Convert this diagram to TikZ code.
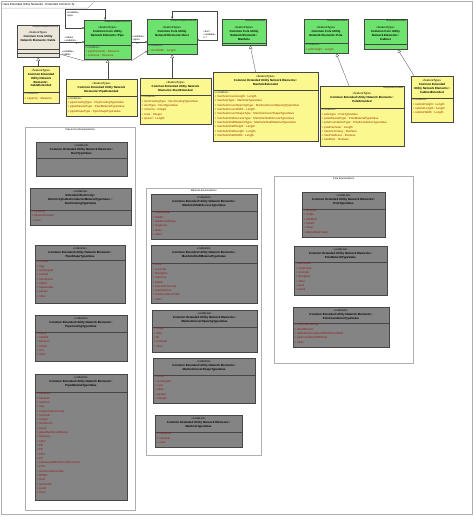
\documentclass[tikz,border=0pt]{standalone}
\usepackage{fontspec}
\setmainfont{Liberation Sans}
\usetikzlibrary{arrows.meta, positioning, shadows}

\definecolor{ccgreen}{RGB}{110,226,110}
\definecolor{ceyellow}{RGB}{250,248,142}
\definecolor{cablebeige}{RGB}{236,230,218}
\definecolor{enumgray}{RGB}{132,132,132}
\definecolor{litred}{RGB}{150,22,22}
\definecolor{attrred}{RGB}{150,45,10}
\definecolor{boxline}{RGB}{70,70,70}
\definecolor{frameline}{RGB}{175,175,175}

% box with header and one separator: name, style, x, y, w, h, separator y, header y, header
\newcommand{\classbox}[9]{%
  \node[#2, minimum width=#5, minimum height=#6, anchor=north west] (#1) at (#3,#4) {};
  \draw[boxline, line width=0.3pt] (#1.west |- 0,#7) -- (#1.east |- 0,#7);
  \node[hdr, anchor=north] (#1hdr) at ({#3+#5/2},#8) {#9};
}

\begin{document}
\begin{tikzpicture}[x=1pt, y=-1pt]

\tikzset{box/.style = {draw=boxline, line width=0.3pt, inner sep=0pt,
    drop shadow={shadow xshift=1.2pt, shadow yshift=-1.2pt, opacity=0.3}}}
\tikzset{core/.style = {box, fill=ccgreen}}
\tikzset{ext/.style = {box, fill=ceyellow}}
\tikzset{linkbox/.style = {box, fill=cablebeige}}
\tikzset{enum/.style = {box, fill=enumgray}}
\tikzset{pkg/.style = {draw=frameline, fill=white, line width=0.4pt, inner sep=0pt,
    drop shadow={shadow xshift=1pt, shadow yshift=-1pt, opacity=0.2}}}
\tikzset{hdr/.style = {font=\fontsize{2.9}{3.9}\selectfont, align=center, inner sep=0pt}}
\tikzset{tag/.style = {font=\fontsize{2.2}{2.6}\selectfont, inner sep=0.8pt, anchor=north east}}
\tikzset{attr/.style = {font=\fontsize{2.9}{4.3}\selectfont, align=left, inner sep=0pt,
    anchor=north west, xshift=1.5pt, text=attrred}}
\tikzset{lit/.style = {attr, text=litred}}
\tikzset{lbl/.style = {font=\fontsize{2.5}{3}\selectfont, inner sep=0.6pt, align=left}}
\tikzset{gen/.style = {draw=boxline, line width=0.3pt, -{Triangle[open, length=3.5pt, width=3.5pt]}}}
\tikzset{assoc/.style = {draw=boxline, line width=0.3pt}}
\tikzset{diagframe/.style = {draw=frameline, line width=0.8pt, inner sep=0pt}}

\useasboundingbox (0,0) rectangle (474,517);

% frame
\node[diagframe, minimum width=471, minimum height=513, anchor=north west] (diagram) at (0.5,0.5) {};
\draw[frameline, line width=0.5pt] (diagram.west |- 0,8) -- (88,8) -- (93,3) -- (93,0.5);
\node[font=\fontsize{2.9}{3.4}\selectfont, anchor=west, inner sep=0pt] (title) at (2.5,4.5)
  {class Extended Utility Networks - Extended Common Ty...};

% core classes
\classbox{cable}{linkbox}{17}{25}{42}{32}{49}{31}{«featureType»\\\textbf{Common Core Utility}\\\textbf{Network Elements::Cable}}
\draw[boxline, line width=0.3pt] (cable.west |- 0,53) -- (cable.east |- 0,53);
\node[tag] (cabletag) at (cable.north east) {UtilityLinkSequenceOfLink};

\classbox{pipe}{core}{84}{20}{47}{39}{45.5}{26}{«featureType»\\\textbf{Common Core Utility}\\\textbf{Network Elements::Pipe}}
\node[tag] (pipetag) at (pipe.north east) {UtilityLinkSequenceOfLink};
\node[attr] (pipeattr) at (pipe.west |- 0,46) {{\color{darkgray}«voidable»}\\+ pipeDiameter : Measure\\+ pressure : Measure};

\classbox{duct}{core}{147}{19}{50}{35}{44}{26.5}{«featureType»\\\textbf{Common Core Utility}\\\textbf{Network Elements::Duct}}
\node[tag] (ducttag) at (duct.north east) {UtilityLinkSequenceOfLink};
\node[attr] (ductattr) at (duct.west |- 0,44.5) {{\color{darkgray}«voidable»}\\+ ductWidth : Length};

\classbox{manhole}{core}{222}{19}{44}{26}{43}{26.5}{«featureType»\\\textbf{Common Core Utility}\\\textbf{Network Elements::}\\\textbf{Manhole}}
\node[tag] (manholetag) at (manhole.north east) {UtilityNodeContainer};

\classbox{pole}{core}{304}{19}{44}{34}{43}{26}{«featureType»\\\textbf{Common Core Utility}\\\textbf{Network Elements::Pole}}
\node[tag] (poletag) at (pole.north east) {UtilityNodeContainer};
\node[attr] (poleattr) at (pole.west |- 0,43.5) {{\color{darkgray}«voidable»}\\+ poleHeight : Length};

\classbox{cabinet}{core}{364}{19}{43}{30}{44.5}{26.5}{«featureType»\\\textbf{Common Core Utility}\\\textbf{Network Elements::}\\\textbf{Cabinet}}
\node[tag] (cabinettag) at (cabinet.north east) {UtilityNodeContainer};

% extended classes
\classbox{cableext}{ext}{23}{66}{36}{37}{92}{69}{«featureType»\\\textbf{Common Extended}\\\textbf{Utility Network}\\\textbf{Elements::}\\\textbf{CableExtended}}
\node[attr] (cableextattr) at (cableext.west |- 0,92.5) {{\color{darkgray}«voidable»}\\+ capacity : Measure};

\classbox{pipeext}{ext}{66}{79}{71}{37}{96.5}{82}{«featureType»\\\textbf{Common Extended Utility Network}\\\textbf{Elements::PipeExtended}}
\node[attr] (pipeextattr) at (pipeext.west |- 0,97) {{\color{darkgray}«voidable»}\\+ pipeCoatingType : PipeCoatingTypeValue\\+ pipeMaterialType : PipeMaterialTypeValue\\+ pipeShapeType : PipeShapeTypeValue};

\classbox{ductext}{ext}{140}{78}{71}{46}{95}{81}{«featureType»\\\textbf{Common Extended Utility Network}\\\textbf{Elements::DuctExtended}}
\node[attr] (ductextattr) at (ductext.west |- 0,95.5) {{\color{darkgray}«voidable»}\\+ ductCoatingType : DuctCoatingTypeValue\\+ ductType : DuctTypeValue\\+ columns : Integer\\+ rows : Integer\\+ spacer : Length};

\classbox{manholeext}{ext}{213}{72}{105}{69}{90.5}{75}{«featureType»\\\textbf{Common Extended Utility Network Elements::}\\\textbf{ManholeExtended}}
\node[attr] (manholeextattr) at (manholeext.west |- 0,91) {{\color{darkgray}«voidable»}\\+ manholeCoverLength : Length\\+ manholeType : ManholeTypeValue\\+ manholeCoverOpeningType : ManholeCoverOpeningTypeValue\\+ manholeCoverWidth : Length\\+ manholeCoverShapeType : ManholeCoverShapeTypeValue\\+ manholeShaftAccessType : ManholeShaftAccessTypeValue\\+ manholeShaftMaterialType : ManholeShaftMaterialTypeValue\\+ manholeShaftHeight : Length\\+ manholeShaftLength : Length\\+ manholeShaftWidth : Length};

\classbox{poleext}{ext}{320}{86}{84}{60}{108}{92}{«featureType»\\\textbf{Common Extended Utility Network Elements::}\\\textbf{PoleExtended}}
\node[tag] (poleexttag) at (poleext.north east) {UtilityNodeContainer};
\node[attr] (poleextattr) at (poleext.west |- 0,108.5) {{\color{darkgray}«voidable»}\\+ poleType : PoleTypeValue\\+ poleMaterialType : PoleMaterialTypeValue\\+ poleFoundationType : PoleFoundationTypeValue\\+ poleDiameter : Length\\+ hasAnchorGuy : Boolean\\+ hasPoleBrace : Boolean\\+ hasRiser : Boolean};

\classbox{cabinetext}{ext}{411}{76}{42}{46}{98}{79}{«featureType»\\\textbf{Common Extended}\\\textbf{Utility Network Elements::}\\\textbf{CabinetExtended}}
\node[attr] (cabinetextattr) at (cabinetext.west |- 0,98.5) {{\color{darkgray}«voidable»}\\+ cabinetHeight : Length\\+ cabinetLength : Length\\+ cabinetWidth : Length};

% generalizations
\draw[gen] (cableext.north -| cable.south) -- (cable.south);
\draw[gen] (pipeext.north -| pipe.south) -- (pipe.south);
\draw[gen] (ductext.north -| duct.south) -- (duct.south);
\draw[gen] ([xshift=-10pt]manholeext.north) -- ([xshift=6pt]manhole.south);
\draw[gen] ([xshift=-13pt]poleext.north) -- ([xshift=10pt]pole.south);
\draw[gen] ([xshift=-18pt]cabinetext.north) -- ([xshift=12pt]cabinet.south);

% associations
\draw[assoc, {Circle[open, length=2pt]}-{Stealth[length=2.5pt, width=2pt]}] (pipe.west |- 0,28) -- ++(-19,0) -- ++(0,-19)
  node[lbl, anchor=north west, xshift=1pt, yshift=-1.5pt] {«voidable»\\+pipe} -| ([xshift=-2.5pt]pipe.north);
\draw[assoc, {Circle[open, length=2pt]}-{Stealth[length=2.5pt, width=2pt]}] (duct.east |- 0,40) -- ++(20,0)
  node[lbl, anchor=south east, xshift=-1pt, yshift=1pt] {+duct\\«voidable»\\0..*} -- ++(0,-29) -| (duct.north);
\draw[assoc, -{Circle[open, length=2pt]}] (cable.east |- 0,42) -- (pipe.west |- 0,42)
  node[lbl, pos=0.45, above] {+cables\\«voidable»} node[lbl, pos=0.75, below] {0..*};
\draw[assoc, -{Circle[open, length=2pt]}] (pipe.east |- 0,42) -- (duct.west |- 0,42)
  node[lbl, pos=0.45, above] {«voidable»\\+pipes} node[lbl, pos=0.45, below] {0..*};
\draw[assoc, -{Circle[open, length=2pt]}] (cable.east |- 0,54) -- ([yshift=-1.5pt]pipe.south west)
  node[lbl, pos=0.35, above] {«voidable»\\+cables} -- ([yshift=-1.5pt]pipe.south east) -- (duct.west |- 0,51);

% pipe and duct enumerations
\node[pkg, minimum width=110, minimum height=383, anchor=north west] (pkgpipe) at (25,127) {};
\node[lbl, below=1pt of pkgpipe.north] (pkgpipetitle) {Pipe \& Duct Enumerations};

\classbox{ducttype}{enum}{36}{142}{91}{34}{158}{144.5}{«codeList»\\\textbf{Common Extended Utility Network Elements::}\\\textbf{DuctTypeValue}}

\classbox{ductcoating}{enum}{30}{188}{101}{37}{210}{190}{«codeList»\\\textbf{Extended Electricity::}\\\textbf{ElectricityCableConductorMaterialTypeValue ::}\\\textbf{DuctCoatingTypeValue}}
\node[lit] (ductcoatinglit) at (ductcoating.west |- 0,210.5) {+ concrete\\+ bitumenCoated\\+ none};

\classbox{pipeshape}{enum}{35}{245}{90}{58}{260}{247}{«codeList»\\\textbf{Common Extended Utility Network Elements::}\\\textbf{PipeShapeTypeValue}}
\node[lit] (pipeshapelit) at (pipeshape.west |- 0,260.5) {+ circular\\+ egg\\+ rectangular\\+ arched\\+ horseshoe\\+ elliptic\\+ trapezoidal\\+ square\\+ other};

\classbox{pipecoating}{enum}{35}{315}{92}{46}{332}{317.5}{«codeList»\\\textbf{Common Extended Utility Network Elements::}\\\textbf{PipeCoatingTypeValue}}
\node[lit] (pipecoatinglit) at (pipecoating.west |- 0,332.5) {+ epoxy\\+ asphalt\\+ bitumen\\+ mortar\\+ zinc\\+ other};

\classbox{pipematerial}{enum}{35}{374}{92}{126}{392}{376.5}{«codeList»\\\textbf{Common Extended Utility Network Elements::}\\\textbf{PipeMaterialTypeValue}}
\node[lit] (pipemateriallit) at (pipematerial.west |- 0,392.5) {+ asbestos\\+ bitumen\\+ castIron\\+ clay\\+ compositeConcrete\\+ concrete\\+ copper\\+ ductileIron\\+ epoxy\\+ glassReinforcedEpoxy\\+ masonry\\+ other\\+ PB\\+ PE\\+ PEX\\+ PP\\+ prestressedReinforcedConcrete\\+ PVC\\+ reinforcedConcrete\\+ RPMP\\+ steel\\+ terracotta\\+ wood\\+ none};

% manhole enumerations
\node[pkg, minimum width=115, minimum height=267, anchor=north west] (pkgmanhole) at (146,188) {};
\node[lbl, below=1pt of pkgmanhole.north] (pkgmanholetitle) {Manhole Enumerations};

\classbox{shaftaccess}{enum}{151}{194}{106}{45}{211}{196}{«codeList»\\\textbf{Common Extended Utility Network Elements::}\\\textbf{ManholeShaftAccessTypeValue}}
\node[lit] (shaftaccesslit) at (shaftaccess.west |- 0,211.5) {+ fixedLadder\\+ ladder\\+ ladderAndSteps\\+ stepIrons\\+ stairs\\+ other};

\classbox{shaftmaterial}{enum}{151}{245}{106}{58}{263}{247}{«codeList»\\\textbf{Common Extended Utility Network Elements::}\\\textbf{ManholeShaftMaterialTypeValue}}
\node[lit] (shaftmateriallit) at (shaftmaterial.west |- 0,263.5) {+ brick\\+ concrete\\+ fiberglass\\+ masonry\\+ plastic\\+ precastConcrete\\+ polyethylene\\+ reinforcedConcrete\\+ other};

\classbox{coveropening}{enum}{152}{310}{105}{42}{327}{312}{«codeList»\\\textbf{Common Extended Utility Network Elements::}\\\textbf{ManholeCoverOpeningTypeValue}}
\node[lit] (coveropeninglit) at (coveropening.west |- 0,327.5) {+ hinge\\+ slide\\+ lift\\+ screwed\\+ other};

\classbox{covershape}{enum}{153}{358}{102}{45}{375}{360}{«codeList»\\\textbf{Common Extended Utility Network Elements::}\\\textbf{ManholeCoverShapeTypeValue}}
\node[lit] (covershapelit) at (covershape.west |- 0,375.5) {+ circle\\+ rectangular\\+ oval\\+ other\\+ square\\+ triangle};

\classbox{manholetype}{enum}{155}{415}{87}{32}{432}{417}{«codeList»\\\textbf{Common Extended Utility Network Elements::}\\\textbf{ManholeTypeValue}}
\node[lit] (manholetypelit) at (manholetype.west |- 0,432.5) {+ handhole\\+ manhole\\+ vault};

% pole enumerations
\node[pkg, minimum width=139, minimum height=187, anchor=north west] (pkgpole) at (274,176) {};
\node[lbl, below=1pt of pkgpole.north] (pkgpoletitle) {Pole Enumerations};

\classbox{poletype}{enum}{302}{192}{83}{45}{209}{194}{«codeList»\\\textbf{Common Extended Utility Network Elements::}\\\textbf{PoleTypeValue}}
\node[lit] (poletypelit) at (poletype.west |- 0,209.5) {+ aFrame\\+ single\\+ doubleH\\+ tripleH\\+ tower\\+ latticeSteelTower};

\classbox{polematerial}{enum}{294}{246}{93}{49}{262}{248}{«codeList»\\\textbf{Common Extended Utility Network Elements::}\\\textbf{PoleMaterialTypeValue}}
\node[lit] (polemateriallit) at (polematerial.west |- 0,262.5) {+ aluminium\\+ composite\\+ concrete\\+ fiberglass\\+ other\\+ steel\\+ wood};

\classbox{polefoundation}{enum}{293}{307}{96}{40}{323}{309}{«codeList»\\\textbf{Common Extended Utility Network Elements::}\\\textbf{PoleFoundationTypeValue}}
\node[lit] (polefoundationlit) at (polefoundation.west |- 0,323.5) {+ concreteFooting\\+ directBuried\\+ drilledConcretePierWithAnchorBolts\\+ pileFoundationWithCap\\+ other};

\end{tikzpicture}
\end{document}
